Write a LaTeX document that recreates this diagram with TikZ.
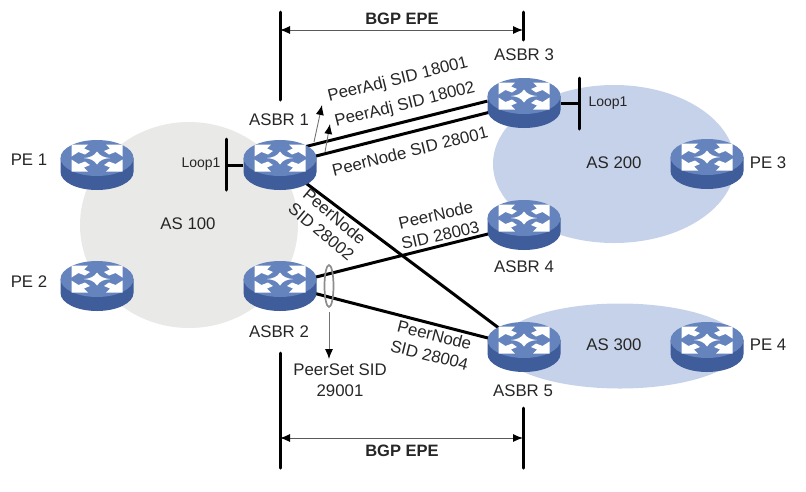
\documentclass[tikz,border=0pt]{standalone}
\usepackage{fontspec}
\setmainfont{Liberation Sans}
\usetikzlibrary{shapes.geometric,arrows.meta}
\definecolor{cloudgray}{HTML}{E9E9E7}
\definecolor{cloudblue}{HTML}{C5D2E9}
\definecolor{routertop}{HTML}{6583BD}
\definecolor{routerside}{HTML}{3F5C9B}
\definecolor{inktext}{HTML}{262626}
\tikzset{
	routernode/.style={ellipse,minimum width=73pt,minimum height=50pt,inner sep=0pt},
	lbl/.style={text=inktext,font=\fontsize{16.8}{20.5}\selectfont,align=center,inner sep=0pt},
	smalllbl/.style={text=inktext,font=\fontsize{14}{16}\selectfont,inner sep=0pt},
	boldlbl/.style={text=inktext,font=\fontsize{16.5}{18}\selectfont\bfseries,inner sep=0pt},
	link/.style={line width=3pt,black},
	bar/.style={line width=3pt,black,line cap=round},
	span/.style={line width=1pt,black!65,{Latex[length=10pt,width=8pt,black]}-{Latex[length=10pt,width=8pt,black]}},
	callout/.style={line width=0.9pt,black!55,-{Latex[length=10pt,width=8pt,black]}},
	router/.pic={
		\fill[routerside] (-36.5,0) -- (-36.5,14) arc (180:0:36.5 and 18) -- (36.5,0) -- cycle;
		\fill[routertop] (0,0) ellipse (36.5 and 18);
		\foreach \sx/\sy in {1/1,-1/1,1/-1,-1/-1}{
			\fill[white,xscale=\sx,yscale=\sy] (25.5,13.5) -- (9,13.5) -- (13,9.5) -- (7,7) -- (12,3.5) -- (18.5,6) -- (25.5,1.5) -- cycle;
			\fill[white,xscale=\sx,yscale=\sy] (0,0) -- (13,0) .. controls (7,0.5) and (3,2) .. (0,6.5) -- cycle;
		}
	}
}
\begin{document}
\begin{tikzpicture}[x=1pt,y=-1pt]
\useasboundingbox (0,0) rectangle (806,491);
\fill[cloudgray] (189,225) ellipse (109 and 103);
\fill[cloudblue] (614,164) ellipse (121 and 79);
\fill[cloudblue] (620,346) ellipse (122 and 42.5);
\foreach \rname/\rx/\ry in {pe1/97/158,pe2/97/279,asbr1/280/158,asbr2/280/279,asbr3/524/96,asbr4/524/218,asbr5/524/340,pe3/707/157,pe4/707/340}{
	\node[routernode] (\rname) at (\rx,\ry+7) {};
}
\coordinate (topl) at (280,12);
\coordinate (topm) at (280,100);
\coordinate (topr) at (523,12);
\coordinate (toprb) at (523,40);
\coordinate (botl) at (280,353);
\coordinate (botlb) at (280,468);
\coordinate (botr) at (523,408);
\coordinate (botrb) at (523,468);
\coordinate (loopa) at (226,165);
\coordinate (loopb) at (579,103);
\draw[link] (asbr1.36) -- (asbr3.177);
\draw[link] (asbr1.14) -- (asbr3.195);
\draw[link] (asbr1.-35) -- (asbr5.143);
\draw[link] (asbr2.14) -- (asbr4.194);
\draw[link] (asbr2.-12) -- (asbr5.166);
\draw[link] (asbr1.180) -- (loopa);
\draw[link] (asbr3.0) -- (loopb);
\draw[bar] (226,139) -- (226,190);
\draw[bar] (579,78) -- (579,129);
\foreach \rname/\rx/\ry in {pe1/97/158,pe2/97/279,asbr1/280/158,asbr2/280/279,asbr3/524/96,asbr4/524/218,asbr5/524/340,pe3/707/157,pe4/707/340}{
	\pic at (\rx,\ry) {router};
}
\draw[bar] (topl) -- (topm);
\draw[bar] (topr) -- (toprb);
\draw[bar] (botl) -- (botlb);
\draw[bar] (botr) -- (botrb);
\draw[span] (topl |- 0,30) -- (topr |- 0,30);
\draw[span] (botl |- 0,438) -- (botr |- 0,438);
\node[boldlbl] (bgptop) at (402,19) {BGP EPE};
\node[boldlbl] (bgpbot) at (402,451) {BGP EPE};
\node[lbl] (pe1t) at (29,160) {PE 1};
\node[lbl] (pe2t) at (29,282) {PE 2};
\node[lbl] (pe3t) at (768,163) {PE 3};
\node[lbl] (pe4t) at (768,345) {PE 4};
\node[lbl] (as1t) at (188,224) {AS 100};
\node[lbl] (as2t) at (614,163) {AS 200};
\node[lbl] (as3t) at (614,345) {AS 300};
\node[lbl] (a1t) at (279,120) {ASBR 1};
\node[lbl] (a2t) at (279,332) {ASBR 2};
\node[lbl] (a3t) at (524,55) {ASBR 3};
\node[lbl] (a4t) at (524,267) {ASBR 4};
\node[lbl] (a5t) at (523,391) {ASBR 5};
\node[smalllbl] (l1t) at (201,164) {Loop1};
\node[smalllbl] (l3t) at (608,103) {Loop1};
\node[lbl,rotate=14] (adj1) at (398,80) {PeerAdj SID 18001};
\node[lbl,rotate=14] (adj2) at (405,105) {PeerAdj SID 18002};
\node[lbl,rotate=14] (node1) at (410,151) {PeerNode SID 28001};
\node[lbl,rotate=-40] (node2) at (328,224) {PeerNode\\SID 28002};
\node[lbl,rotate=13] (node3) at (438,225) {PeerNode\\SID 28003};
\node[lbl,rotate=-14] (node4) at (432,345) {PeerNode\\SID 28004};
\coordinate (tipa) at (322,105);
\coordinate (tipb) at (330,124);
\coordinate (basea) at (314,142);
\coordinate (baseb) at (325,152);
\draw[callout] (basea) -- (tipa);
\draw[callout] (baseb) -- (tipb);
\node[ellipse,draw=black!45,line width=1.7pt,minimum width=9pt,minimum height=42pt,inner sep=0pt] (setring) at (329,286) {};
\coordinate (setbase) at (329,312);
\coordinate (settip) at (329,359);
\draw[callout] (setbase) -- (settip);
\node[lbl] (setsid) at (340,380) {PeerSet SID\\29001};
\end{tikzpicture}
\end{document}
